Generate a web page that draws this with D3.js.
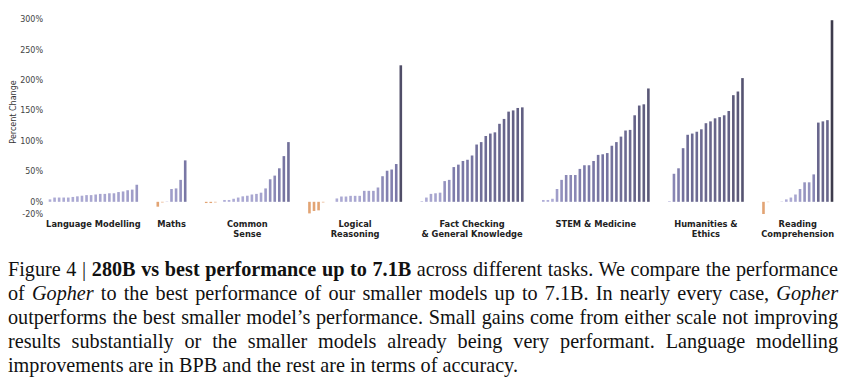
<!DOCTYPE html>
<html>
<head>
<meta charset="utf-8">
<script src="https://cdn.jsdelivr.net/npm/d3@7/dist/d3.min.js"></script>
<style>
	body { margin: 0; background: #fff; }
	#fig { position: relative; width: 846px; height: 382px; overflow: hidden; }
	#fig svg { position: absolute; left: 0; top: 0; }
	.caption { position: absolute; left: 8px; top: 257px; width: 830px; font-family: 'Liberation Serif', serif; font-size: 20.2px; line-height: 24px; color: #111; }
	.caption div { text-align: justify; text-align-last: justify; }
	.caption div.last { text-align-last: left; }
</style>
</head>
<body>
<div id="fig"></div>
<script>
// values, percent change 280B vs best <= 7.1B
const groupNames = ['Language Modelling', 'Maths', 'Common Sense', 'Logical Reasoning',
	'Fact Checking & General Knowledge', 'STEM & Medicine', 'Humanities & Ethics', 'Reading Comprehension'];
const groupLabels = [['Language Modelling'], ['Maths'], ['Common', 'Sense'], ['Logical', 'Reasoning'],
	['Fact Checking', '& General Knowledge'], ['STEM & Medicine'], ['Humanities &', 'Ethics'], ['Reading', 'Comprehension']];

const languageModelling = [4, 7, 7, 7, 7, 8, 9, 10, 11, 11, 12, 13, 13, 14, 14, 16, 17, 19, 20, 28];
const maths = [-8, -1, 0.5, 21, 22, 36, 68];
const commonSense = [-2, -2, -1, 0, 3, 3, 5, 7, 9, 10, 12, 13, 15, 22, 37, 43, 55, 75, 98];
const logicalReasoning = [-19, -15, -14, -1, 0, 0, 5.5, 8.7, 8.7, 9.8, 9.8, 9.8, 18, 18, 18, 23.5, 42, 51, 53, 62, 224];
const factChecking = [1, 7, 13, 14, 15, 34, 36, 57, 61, 67, 69, 76, 94, 98, 108, 112, 114, 128, 136, 148, 150, 154, 155];
const stemMedicine = [3, 3, 5, 21, 36, 44, 44, 44, 54, 60, 60, 67, 77, 78, 80, 92, 98, 107, 117, 118, 142, 158, 160, 186];
const humanitiesEthics = [1, 46, 55, 88, 110, 112, 115, 119, 129, 132, 137, 139, 142, 149, 175, 181, 203];
const readingComprehension = [-20, -0.5, 0, 0, 0.5, 4, 7, 12, 21, 32, 32, 45, 130, 132, 134, 298];

const groupValues = [languageModelling, maths, commonSense, logicalReasoning,
	factChecking, stemMedicine, humanitiesEthics, readingComprehension];

const yTicks = [-20, 0, 50, 100, 150, 200, 250, 300];

const WIDTH = 846;
const HEIGHT = 245;
const GAP = 4.6; // slots between groups
const BAR_W = 2.6;

// flatten into bars with a running slot index
const bars = [];
const groupSpan = [];
let slot = 0;
groupValues.forEach((vals, g) => {
	if (g > 0) slot += GAP;
	const start = slot;
	vals.forEach((v, i) => {
		bars.push({ group: g, value: v, idx: slot });
		if (i < vals.length - 1) slot += 1;
	});
	groupSpan.push([start, slot]);
});

const x = d3.scaleLinear().domain([0, slot]).range([50, 832]);
const y = d3.scaleLinear().domain([-20, 300]).range([214, 19]);
const color = d3.scaleLinear()
	.domain([0, 60, 300])
	.range(['#b3b1da', '#7b79a8', '#3c3a4b'])
	.clamp(true);
const NEG = '#e2a474';

const $fig = d3.select('#fig');
const $svg = $fig.append('svg').attr('width', WIDTH).attr('height', HEIGHT);

// y axis, labels only
const $axis = $svg.append('g')
	.attr('transform', 'translate(46,0)')
	.call(d3.axisLeft(y).tickValues(yTicks).tickFormat(d => `${d}%`).tickSize(0).tickPadding(3));
$axis.select('.domain').remove();
$axis.selectAll('text')
	.attr('font-family', 'DejaVu Sans')
	.attr('font-size', 8)
	.attr('fill', '#444');

$svg.append('text')
	.attr('transform', 'translate(16,112) rotate(-90)')
	.attr('text-anchor', 'middle')
	.attr('font-family', 'DejaVu Sans')
	.attr('font-size', 8)
	.attr('fill', '#333')
	.text('Percent Change');

$svg.append('g')
	.selectAll('rect')
	.data(bars)
	.join('rect')
	.attr('x', d => x(d.idx) - BAR_W / 2)
	.attr('width', BAR_W)
	.attr('y', d => Math.min(y(d.value), y(0)))
	.attr('height', d => Math.abs(y(d.value) - y(0)))
	.attr('fill', d => (d.value < 0 ? NEG : color(d.value)));

// group labels
const $labels = $svg.append('g')
	.selectAll('text')
	.data(groupLabels)
	.join('text')
	.attr('x', (d, i) => x((groupSpan[i][0] + groupSpan[i][1]) / 2))
	.attr('y', 227)
	.attr('text-anchor', 'middle')
	.attr('font-family', 'DejaVu Sans')
	.attr('font-weight', 'bold')
	.attr('font-size', 8.3)
	.attr('fill', '#222');
$labels.selectAll('tspan')
	.data(d => d)
	.join('tspan')
	.attr('x', function () { return this.parentNode.getAttribute('x'); })
	.attr('dy', (d, i) => (i === 0 ? 0 : 9.5))
	.text(d => d);

// caption
const $cap = $fig.append('div').attr('class', 'caption');
const l1 = $cap.append('div');
l1.append('span').text('Figure 4 | ');
l1.append('b').text('280B vs best performance up to 7.1B');
l1.append('span').text(' across different tasks. We compare the performance');
const l2 = $cap.append('div');
l2.append('span').text('of ');
l2.append('i').text('Gopher');
l2.append('span').text(' to the best performance of our smaller models up to 7.1B. In nearly every case, ');
l2.append('i').text('Gopher');
$cap.append('div').text('outperforms the best smaller model\u2019s performance. Small gains come from either scale not improving');
$cap.append('div').text('results substantially or the smaller models already being very performant.  Language modelling');
$cap.append('div').attr('class', 'last').text('improvements are in BPB and the rest are in terms of accuracy.');
</script>
</body>
</html>
